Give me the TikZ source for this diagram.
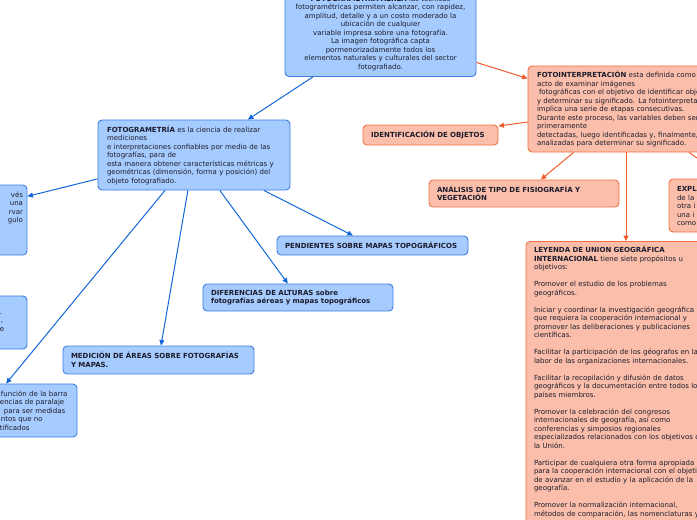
\documentclass[tikz,border=0pt]{standalone}
\usepackage{fontspec}
\setmainfont{DejaVu Sans}
\usetikzlibrary{arrows.meta}
\definecolor{bfill}{HTML}{A6CBFF}
\definecolor{bdraw}{HTML}{3D7EE0}
\definecolor{blink}{HTML}{1266D6}
\definecolor{ofill}{HTML}{FABEAA}
\definecolor{odraw}{HTML}{F0703F}
\definecolor{olink}{HTML}{F25A2D}
\definecolor{txt}{HTML}{1C1C2C}
\newcommand{\leftfrag}[1]{\makebox[69pt][l]{#1}}
\begin{document}
\begin{tikzpicture}[x=1pt,y=-1pt,
  box/.style={rounded corners=4pt, line width=0.9pt, text=txt,
    font=\fontsize{7}{8.5}\selectfont, align=left, inner ysep=0pt},
  bluebox/.style={box, draw=bdraw, fill=bfill},
  orangebox/.style={box, draw=odraw, fill=ofill},
  bluelink/.style={draw=blink, line width=1pt, -{Triangle[length=5.5pt,width=5pt]}},
  orangelink/.style={draw=olink, line width=1pt, -{Triangle[length=5.5pt,width=5pt]}},
]
\useasboundingbox (0,0) rectangle (697,520);

% ---------- blue nodes ----------
\node[bluebox, align=center, text width=175pt, inner xsep=8pt, minimum width=191pt, minimum height=88pt] (top) at (380.5,32.5)
{\textbf{FOTOGRAMETRÍA AÉREA} las técnicas\\
fotogramétricas permiten alcanzar, con rapidez,\\
amplitud, detalle y a un costo moderado la\\
ubicación de cualquier\\
variable impresa sobre una fotografía.\\
La imagen fotográfica capta\\
pormenorizadamente todos los\\
elementos naturales y culturales del sector\\
fotografiado.};

\node[bluebox, text width=174pt, inner xsep=9pt, minimum height=70pt] (fg) at (194,155)
{\textbf{FOTOGRAMETRÍA} es la ciencia de realizar\\
mediciones\\
\mbox{e interpretaciones confiables por medio de las}\\
fotografías, para de\\
\mbox{esta manera obtener características métricas y}\\
\mbox{geométricas (dimensión, forma y posición) del}\\
objeto fotografiado.};

\node[bluebox, align=right, text width=182pt, inner xsep=4pt, minimum height=70pt] (A) at (-68,220)
{vés\\ una\\ rvar\\ gulo\\ ~\\ ~\\ ~};

\node[bluebox, align=right, text width=182pt, inner xsep=4pt, minimum height=53pt] (B) at (-68,322.5)
{~\\ \makebox[23pt][l]{.}\\ \makebox[22pt][l]{,}\\ \makebox[23pt][l]{e}\\ ~};

\node[bluebox, align=right, text width=170pt, inner xsep=8pt, minimum height=53pt] (C) at (-16,410.5)
{\leftfrag{\hspace*{1pt}función de la barra}\\
\leftfrag{encias de paralaje}\\
\leftfrag{\hspace*{4pt}para ser medidas}\\
\leftfrag{\hspace*{1pt}ntos que no}\\
\leftfrag{tificados}};

\node[bluebox, text width=175pt, inner xsep=8pt, minimum height=28pt] (med) at (158.5,360)
{\textbf{MEDICIÓN DE ÁREAS SOBRE FOTOGRAFÍAS}\\ \textbf{Y MAPAS.}};

\node[bluebox, text width=174pt, inner xsep=8pt, minimum height=27pt] (dif) at (298,297.5)
{\textbf{DIFERENCIAS DE ALTURAS sobre}\\ \textbf{fotografías aéreas y mapas topográficos}};

\node[bluebox, text width=175pt, inner xsep=8pt, minimum height=19pt] (pen) at (372.5,245.5)
{\mbox{\textbf{PENDIENTES SOBRE MAPAS TOPOGRÁFICOS}}};

% ---------- orange nodes ----------
\node[orangebox, text width=178pt, inner xsep=9pt, minimum height=86pt] (fi) at (626,109)
{\mbox{\textbf{FOTOINTERPRETACIÓN} esta definida como}\\
acto de examinar imágenes\\
\mbox{\hspace*{2pt}fotográficas con el objetivo de identificar objetos}\\
\mbox{y determinar su significado. La fotointerpretación}\\
implica una serie de etapas consecutivas.\\
\mbox{Durante este proceso, las variables deben ser}\\
primeramente\\
\mbox{detectadas, luego identificadas y, finalmente,}\\
\mbox{analizadas para determinar su significado.}};

\node[orangebox, text width=119pt, inner xsep=8pt, minimum height=20pt] (ident) at (430.5,135)
{\mbox{\textbf{IDENTIFICACIÓN DE OBJETOS}}};

\node[orangebox, text width=174pt, inner xsep=8pt, minimum height=27pt] (ana) at (524,193.5)
{\textbf{ANÁLISIS DE TIPO DE FISIOGRAFÍA Y}\\ \textbf{VEGETACIÓN}};

\node[orangebox, text width=178pt, inner xsep=8pt, minimum height=53pt] (expl) at (766,205.5)
{\textbf{EXPLICACIÓN}\\ de la\\ otra i\\ una i\\ como};

\node[orangebox, anchor=north, text width=184pt, inner xsep=8pt, inner ysep=5pt] (leg) at (626,241)
{\textbf{LEYENDA DE UNION GEOGRÁFICA}\\
\mbox{\textbf{INTERNACIONAL} tiene siete propósitos u}\\
objetivos:\\ ~\\
Promover el estudio de los problemas\\
geográficos.\\ ~\\
\mbox{Iniciar y coordinar la investigación geográfica}\\
\mbox{que requiera la cooperación internacional y}\\
\mbox{promover las deliberaciones y publicaciones}\\
científicas.\\ ~\\
\mbox{Facilitar la participación de los géografos en la}\\
\mbox{labor de las organizaciones internacionales.}\\ ~\\
\mbox{Facilitar la recopilación y difusión de datos}\\
\mbox{geográficos y la documentación entre todos los}\\
países miembros.\\ ~\\
Promover la celebración del congresos\\
internacionales de geografía, así como\\
conferencias y simposios regionales\\
\mbox{especializados relacionados con los objetivos de}\\
la Unión.\\ ~\\
\mbox{Participar de cualquiera otra forma apropiada}\\
\mbox{para la cooperación internacional con el objetivo}\\
\mbox{de avanzar en el estudio y la aplicación de la}\\
geografía.\\ ~\\
\mbox{Promover la normalización internacional,}\\
\mbox{métodos de comparación, las nomenclaturas y}\\
\rule{0pt}{30pt}};

% ---------- connectors ----------
\draw[bluelink] (top) -- (fg);
\draw[orangelink] (top) -- (fi);
\draw[bluelink] (fg) -- (A);
\draw[bluelink] (fg) -- (C);
\draw[bluelink] (fg) -- (med);
\draw[bluelink] (fg) -- (dif);
\draw[bluelink] (fg) -- (pen);
\draw[orangelink] (fi) -- (ident);
\draw[orangelink] (fi) -- (ana);
\draw[orangelink] (fi) -- (leg);
\draw[orangelink] (fi) -- (expl);
\end{tikzpicture}
\end{document}
